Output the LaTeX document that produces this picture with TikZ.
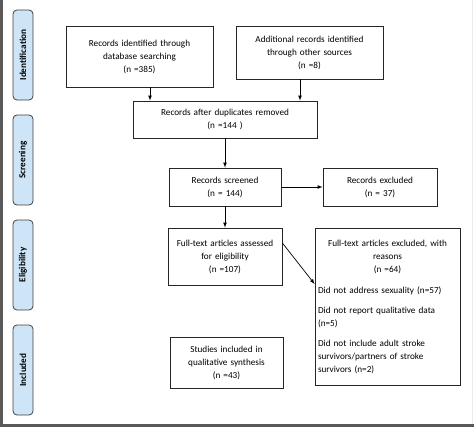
\documentclass[tikz,border=0pt]{standalone}
\usepackage{fontspec}
\setmainfont{Carlito}
\usepackage{tikz}
\usetikzlibrary{arrows}
\definecolor{phasefill}{RGB}{205,229,247}

\begin{document}
\begin{tikzpicture}[x=1pt,y=-1pt,
	box/.style={draw=black!85,line width=0.8pt,align=center,inner sep=3pt,
		font=\fontsize{9.2}{13}\selectfont},
	phase/.style={draw=black!75,line width=0.8pt,fill=phasefill,rounded corners=4pt,
		rotate=90,minimum width=90pt,minimum height=20pt,inner sep=0pt,
		font=\fontsize{9.2}{10}\selectfont\bfseries},
	arr/.style={-latex,line width=0.7pt}]
	\useasboundingbox (0,0) rectangle (474,428);
	\draw[black!65,line width=2.5pt] (1.5,0) -- (1.5,425.5) -- (474,425.5);
	\draw[black!8,line width=0.6pt] (472.5,0) -- (472.5,424);

	\node[phase](ident) at (23,55) {Identification};
	\node[phase](screen) at (23,160) {Screening};
	\node[phase](elig) at (23,265) {Eligibility};
	\node[phase](incl) at (23,370) {Included};

	\node[box,text width=141pt,minimum height=61pt](A) at (139.5,56.5) {Records identified through\\database searching\\(n =385)\par\vspace{10pt}};
	\node[box,text width=141pt,minimum height=53pt](B) at (309.5,52.5) {Additional records identified\\through other sources\\(n =8)};
	\node[box,text width=178pt,minimum height=37pt](C) at (225,119.5) {Records after duplicates removed\\(n =144 )};
	\node[box,text width=106pt,minimum height=38pt](D) at (225,187) {Records screened\\(n = 144)};
	\node[box,text width=108pt,minimum height=38pt](E) at (380,187) {Records excluded\\(n = 37)};
	\node[box,text width=108pt,minimum height=57pt](F) at (225,256.5) {Full-text articles assessed\\for eligibility\\(n =107)};
	\node[box,text width=107pt,minimum height=51pt](H) at (226.5,362.5) {Studies included in\\qualitative synthesis\\(n =43)};
	\node[box,text width=139pt,minimum height=157pt,align=left](G) at (387.5,306.5) {\centering Full-text articles excluded, with\\reasons\\(n =64)\par
		\raggedright\vspace{8pt}Did not address sexuality (n=57)\\[7pt]
		Did not report qualitative data\\(n=5)\\[7pt]
		Did not include adult stroke\\survivors/partners of stroke\\survivors (n=2)};

	\draw[arr] ([xshift=10.5pt]A.south) -- ([xshift=-75pt]C.north);
	\draw[arr] ([xshift=-9.5pt]B.south) -- ([xshift=75pt]C.north);
	\draw[arr] (C) -- (D);
	\draw[arr] (D) -- (E);
	\draw[arr] (D) -- (F);
	\draw[arr] ([yshift=13.5pt]F.east) -- ([yshift=22.5pt]G.west);
\end{tikzpicture}
\end{document}
